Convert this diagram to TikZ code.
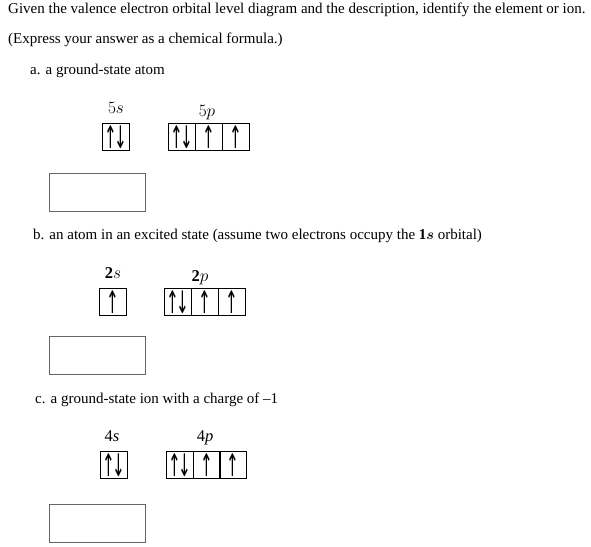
\documentclass[tikz,border=0pt]{standalone}
\usepackage{amsmath,amssymb,bm}
\usepackage{fontspec}
\setmainfont{Liberation Serif}
\newfontfamily\arr{DejaVu Sans}
\newcommand{\ud}{\scalebox{0.66}[1.35]{\arr\fontsize{23}{23}\selectfont ↑\kern-3.5pt↓}}
\newcommand{\uo}{\scalebox{0.66}[1.35]{\arr\fontsize{23}{23}\selectfont ↑}}
\begin{document}
\begin{tikzpicture}[x=1pt,y=-1pt,
  txt/.style={anchor=base west,inner sep=0pt,font=\fontsize{15}{17}\selectfont},
  lbl/.style={anchor=base,inner sep=0pt,font=\fontsize{16.5}{18}\selectfont},
  orb/.style={draw=black,line width=0.8pt,minimum width=27pt,minimum height=27pt,inner sep=0pt,anchor=north west},
  ans/.style={draw=black!60,line width=0.9pt,minimum width=96pt,minimum height=38pt,inner sep=0pt,anchor=north west}]
\useasboundingbox (0,0) rectangle (591,546);
\fill[white] (0,0) rectangle (591,546);
\node[txt] (t1) at (8,13) {Given the valence electron orbital level diagram and the description, identify the element or ion.};
\node[txt] (t2) at (8,43) {(Express your answer as a chemical formula.)};
\node[txt] (ta) at (30,74) {a. a ground-state atom};
% a
\node[lbl] (la1) at (116,113) {$5s$};
\node[lbl] (la2) at (207,116) {$5p$};
\node[orb] (a1) at (102,123) {\ud};
\node[orb] (a2) at (168,123) {\ud};
\node[orb] (a3) at (195,123) {\uo};
\node[orb] (a4) at (222,123) {\uo};
\node[ans] (ansa) at (49,173) {};
% b
\node[txt] (tb) at (33,239) {b. an atom in an excited state (assume two electrons occupy the \textbf{1}$\bm{s}$ orbital)};
\node[lbl] (lb1) at (113,278) {$\mathbf{2}s$};
\node[lbl] (lb2) at (200,281) {$\mathbf{2}p$};
\node[orb] (b1) at (99,288) {\uo};
\node[orb] (b2) at (164,288) {\ud};
\node[orb] (b3) at (191,288) {\uo};
\node[orb] (b4) at (218,288) {\uo};
\node[ans] (ansb) at (49,336) {};
% c
\node[txt] (tc) at (35,403) {c. a ground-state ion with a charge of –1};
\node[lbl] (lc1) at (112,441) {4\textit{s}};
\node[lbl] (lc2) at (205,441) {4\textit{p}};
\node[orb] (c1) at (100,451) {\ud};
\node[orb] (c2) at (166,451) {\ud};
\node[orb] (c3) at (193,451) {\uo};
\node[orb] (c4) at (219,451) {\uo};
\node[ans] (ansc) at (49,504) {};
\end{tikzpicture}
\end{document}
